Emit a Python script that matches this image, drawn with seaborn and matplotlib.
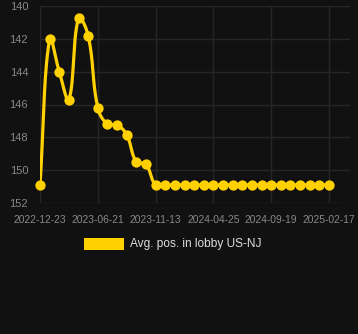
import numpy as np
import pandas as pd
import matplotlib
matplotlib.use("Agg")
import matplotlib.pyplot as plt
import seaborn as sns
from matplotlib.patches import Rectangle

# ---- data ----
tick_labels = ["2022-12-23", "2023-06-21", "2023-11-13", "2024-04-25", "2024-09-19", "2025-02-17"]
tick_index = [0, 6, 12, 18, 24, 30]
positions = [150.9, 142.0, 144.0, 145.7, 140.75, 141.8, 146.2, 147.2, 147.25, 147.85,
             149.5, 149.65] + [150.9] * 19
series_name = "Avg. pos. in lobby US-NJ"
y_ticks = [140, 142, 144, 146, 148, 150, 152]

BG = "#111111"
GRID = "#262626"
TICKC = "#888888"
LINE = "#ffd100"

sns.set_theme(style="dark")
plt.rcParams["font.family"] = ["Liberation Sans", "DejaVu Sans"]

W, H = 358, 334
fig = plt.figure(figsize=(W / 100, H / 100), dpi=100, facecolor=BG)
ax_left, ax_right, ax_top, ax_bot = 40, 350, 6, 203
ax = fig.add_axes([ax_left / W, (H - ax_bot) / H, (ax_right - ax_left) / W, (ax_bot - ax_top) / H])
ax.set_facecolor(BG)

n = len(positions)
x = np.arange(n)
y = np.array(positions, dtype=float)
step = (329 - 40) / 30.0
xmax = (ax_right - ax_left) / step
ax.set_xlim(0, xmax)
ax.set_ylim(152, 140)

# Chart.js-like spline (tension 0.4) computed in pixel space
sx, sy = step, (ax_bot - ax_top) / 12.0
P = np.column_stack([x * sx, (y - 140) * sy])
t = 0.4
cps = []
for i in range(n):
    prev = P[i - 1] if i > 0 else P[i]
    cur = P[i]
    nxt = P[i + 1] if i < n - 1 else P[i]
    d01 = np.hypot(*(cur - prev))
    d12 = np.hypot(*(nxt - cur))
    tot = d01 + d12
    s01 = d01 / tot if tot else 0
    s12 = d12 / tot if tot else 0
    fa, fb = t * s01, t * s12
    cps.append((cur - fa * (nxt - prev), cur + fb * (nxt - prev)))
curve = []
tt = np.linspace(0, 1, 30)[:, None]
for i in range(n - 1):
    p0 = P[i]; p1 = cps[i][1]; p2 = cps[i + 1][0]; p3 = P[i + 1]
    b = (1 - tt) ** 3 * p0 + 3 * (1 - tt) ** 2 * tt * p1 + 3 * (1 - tt) * tt ** 2 * p2 + tt ** 3 * p3
    curve.append(b if i == 0 else b[1:])
curve = np.vstack(curve)
curve_df = pd.DataFrame({"x": curve[:, 0] / sx, "y": curve[:, 1] / sy + 140})
pts_df = pd.DataFrame({"x": x, "y": y})

sns.lineplot(data=curve_df, x="x", y="y", ax=ax, color=LINE, linewidth=2.3, sort=False,
             estimator=None, zorder=3)
sns.scatterplot(data=pts_df, x="x", y="y", ax=ax, color=LINE, s=55, edgecolor=LINE,
                linewidth=0, zorder=4, clip_on=False)

ax.set_xticks(tick_index)
ax.set_xticklabels(tick_labels)
ax.set_yticks(y_ticks)
ax.set_yticklabels([str(v) for v in y_ticks])
ax.set_xlabel("")
ax.set_ylabel("")
ax.grid(True, color=GRID, linewidth=1)
for s in ax.spines.values():
    s.set_visible(False)
ax.tick_params(axis="x", colors=GRID, labelcolor=TICKC, labelsize=7.4, length=5.5, width=1, pad=3)
ax.tick_params(axis="y", colors=GRID, labelcolor=TICKC, labelsize=8.0, length=7.5, width=1, pad=1)

# legend
fig.patches.append(Rectangle((84 / W, 1 - 250 / H), 40 / W, 12 / H, transform=fig.transFigure,
                             facecolor=LINE, edgecolor="none"))
fig.text(130 / W, 1 - 244 / H, series_name, color="#dddddd", fontsize=8.6, va="center", ha="left")

fig.savefig("out.png", dpi=100, facecolor=BG)
